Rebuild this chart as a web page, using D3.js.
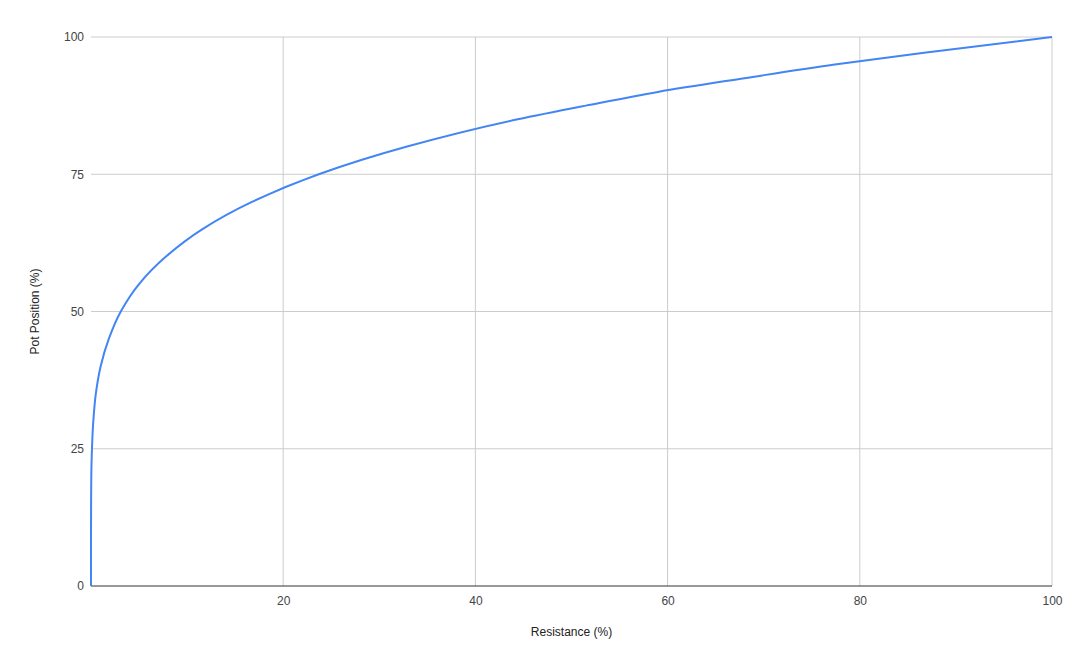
<!DOCTYPE html>
<html>
<head>
<meta charset="utf-8">
<script src="https://cdn.jsdelivr.net/npm/d3@7"></script>
<style>
  body { margin: 0; background: #fff; }
  text { font-family: "Liberation Sans", Arial, sans-serif; }
</style>
</head>
<body>
<svg id="chart" width="1080" height="647"></svg>
<script>
// values
var resistance = [0, 0.001, 0.01, 0.03, 0.1, 0.24, 0.5, 1.0, 1.85, 3.1, 5.0, 7.8, 11.6, 16.8, 23.7, 32.8, 44.4, 51.5, 59, 68, 77.4, 88.4, 100];
var potPosition = [0, 10, 15, 20, 25, 30, 35, 40, 45, 50, 55, 60, 65, 70, 75, 80, 85, 87.5, 90, 92.5, 95, 97.5, 100];
var xTicks = [20, 40, 60, 80, 100];
var yTicks = [0, 25, 50, 75, 100];

var margin = { top: 37, right: 28, bottom: 61, left: 91 };
var width = 1080 - margin.left - margin.right;
var height = 647 - margin.top - margin.bottom;

var x = d3.scaleLinear().domain([0, 100]).range([0, width]);
var y = d3.scaleLinear().domain([0, 100]).range([height, 0]);

var svg = d3.select("#chart");
var chart = svg.append("g")
    .attr("transform", "translate(" + margin.left + "," + margin.top + ")");

// grid
chart.append("g")
    .selectAll("line")
    .data(yTicks.filter(function (d) { return d > 0; }))
    .enter().append("line")
    .attr("x1", 0).attr("x2", width)
    .attr("y1", function (d) { return y(d); })
    .attr("y2", function (d) { return y(d); })
    .attr("stroke", "#cccccc");
chart.append("g")
    .selectAll("line")
    .data(xTicks)
    .enter().append("line")
    .attr("y1", 0).attr("y2", height)
    .attr("x1", function (d) { return x(d); })
    .attr("x2", function (d) { return x(d); })
    .attr("stroke", "#cccccc");

// axes
var xAxis = d3.axisBottom(x).tickValues(xTicks).tickSize(0).tickPadding(10);
var yAxis = d3.axisLeft(y).tickValues(yTicks).tickSize(0).tickPadding(7);

var gx = chart.append("g")
    .attr("transform", "translate(0," + height + ")")
    .call(xAxis);
gx.select(".domain").remove();
gx.selectAll("text").attr("font-size", 12).attr("fill", "#444");

var gy = chart.append("g").call(yAxis);
gy.select(".domain").remove();
gy.selectAll("text").attr("font-size", 12).attr("fill", "#444");

chart.append("line")
    .attr("x1", 0).attr("x2", width)
    .attr("y1", height).attr("y2", height)
    .attr("stroke", "#333333")
    .attr("stroke-width", 1);

// line
var line = d3.line()
    .x(function (d) { return x(d[0]); })
    .y(function (d) { return y(d[1]); })
    .curve(d3.curveMonotoneY);

chart.append("path")
    .datum(resistance.map(function (r, i) { return [r, potPosition[i]]; }))
    .attr("fill", "none")
    .attr("stroke", "#4285f4")
    .attr("stroke-width", 2)
    .attr("d", line);

// titles
svg.append("text")
    .attr("x", margin.left + width / 2)
    .attr("y", 636)
    .attr("text-anchor", "middle")
    .attr("font-size", 12)
    .attr("fill", "#222")
    .text("Resistance (%)");

svg.append("text")
    .attr("transform", "translate(39," + (margin.top + height / 2) + ") rotate(-90)")
    .attr("text-anchor", "middle")
    .attr("font-size", 12)
    .attr("fill", "#222")
    .text("Pot Position (%)");
</script>
</body>
</html>
